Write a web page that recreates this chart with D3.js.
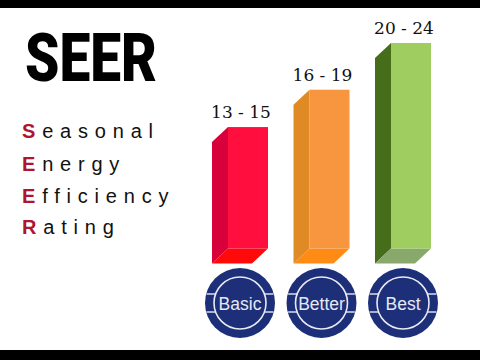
<!DOCTYPE html>
<html>
<head>
<meta charset="utf-8">
<script src="https://cdn.jsdelivr.net/npm/d3@7"></script>
<style>
  html, body { margin: 0; padding: 0; background: #fff; }
  svg { display: block; }
</style>
</head>
<body>
<svg id="chart" width="480" height="360"></svg>
<script>
// SEER rating tiers
const tiers = ["Basic", "Better", "Best"];
const seerLow = [13, 16, 20];
const seerHigh = [15, 19, 24];
const acronymWords = ["Seasonal", "Energy", "Efficiency", "Rating"];

// face colours per tier: front, side, bottom
const frontColors = ["#ff0e3e", "#f7963f", "#9fcd5f"];
const sideColors = ["#d8003a", "#e08a26", "#456d1a"];
const bottomColors = ["#ff0a0a", "#ff8a14", "#88a96b"];

const svg = d3.select("#chart");

// black frame strips
svg.append("rect").attr("x", 0).attr("y", 0).attr("width", 480).attr("height", 8).attr("fill", "#000");
svg.append("rect").attr("x", 0).attr("y", 350).attr("width", 480).attr("height", 10).attr("fill", "#000");

// title
svg.append("text")
  .attr("x", 25).attr("y", 81)
  .attr("font-family", "Roboto, 'Liberation Sans', sans-serif")
  .attr("font-weight", 900)
  .attr("font-size", 67)
  .attr("textLength", 132)
  .attr("lengthAdjust", "spacingAndGlyphs")
  .attr("fill", "#000")
  .text("SEER");

// acronym expansion
const wordBaselines = [138, 170.5, 202.5, 234];
const words = svg.append("g")
  .attr("font-family", "'Liberation Sans', Arial, sans-serif")
  .attr("font-size", 20);
acronymWords.forEach((w, i) => {
  const t = words.append("text")
    .attr("x", 22).attr("y", wordBaselines[i])
    .attr("letter-spacing", 6.8);
  t.append("tspan").attr("fill", "#b0142f").attr("font-weight", "bold").text(w[0]);
  t.append("tspan").attr("fill", "#111").text(w.slice(1));
});

// scales
const x = d3.scaleBand().domain(tiers).range([212, 431]).paddingInner(0.313).paddingOuter(0);
const y = d3.scaleLinear().domain([2, 24]).range([248.5, 43]);
const base = y.domain()[0];
const dx = 16, dy = 15;

const bars = svg.append("g").selectAll("g")
  .data(tiers.map((t, i) => ({ tier: t, lo: seerLow[i], hi: seerHigh[i], i })))
  .join("g");

const poly = pts => "M" + pts.map(p => p.join(",")).join("L") + "Z";

// side face
bars.append("path")
  .attr("fill", d => sideColors[d.i])
  .attr("d", d => {
    const bx = x(d.tier), top = y(d.hi), b = y(base);
    return poly([[bx, top + dy], [bx + dx, top], [bx + dx, b], [bx, b + dy]]);
  });

// bottom face
bars.append("path")
  .attr("fill", d => bottomColors[d.i])
  .attr("d", d => {
    const bx = x(d.tier), w = x.bandwidth(), b = y(base);
    return poly([[bx, b + dy], [bx + dx, b], [bx + w, b], [bx + w - dx, b + dy]]);
  });

// front face
bars.append("rect")
  .attr("fill", d => frontColors[d.i])
  .attr("x", d => x(d.tier) + dx)
  .attr("y", d => y(d.hi))
  .attr("width", x.bandwidth() - dx)
  .attr("height", d => y(base) - y(d.hi));

// range labels
bars.append("text")
  .attr("x", d => x(d.tier) + x.bandwidth() / 2 + 1)
  .attr("y", d => y(d.hi) - 9)
  .attr("text-anchor", "middle")
  .attr("font-family", "'DejaVu Serif', Georgia, serif")
  .attr("font-size", 17)
  .attr("fill", "#111")
  .text(d => `${d.lo} - ${d.hi}`);

// tier badges
const cy = 303, rOut = 35, rIn = 26, band = 9;
const badges = bars.append("g")
  .attr("transform", d => `translate(${x(d.tier) + x.bandwidth() / 2},${cy})`);

badges.append("circle").attr("r", rOut).attr("fill", "#1c2f78");
badges.append("circle").attr("r", rIn).attr("fill", "none").attr("stroke", "#e8eaf4").attr("stroke-width", 1.6);
[-band, band].forEach(off => {
  const xo = Math.sqrt(rOut * rOut - off * off);
  const xi = Math.sqrt(rIn * rIn - off * off);
  [-1, 1].forEach(s => {
    badges.append("line")
      .attr("x1", s * xi).attr("x2", s * (xo - 0.5))
      .attr("y1", off).attr("y2", off)
      .attr("stroke", "#e8eaf4").attr("stroke-width", 1.4);
  });
});
badges.append("text")
  .attr("y", 6.5)
  .attr("text-anchor", "middle")
  .attr("font-family", "'Liberation Sans', Arial, sans-serif")
  .attr("font-size", 17.5)
  .attr("fill", "#e6e8f4")
  .text(d => d.tier);
</script>
</body>
</html>
